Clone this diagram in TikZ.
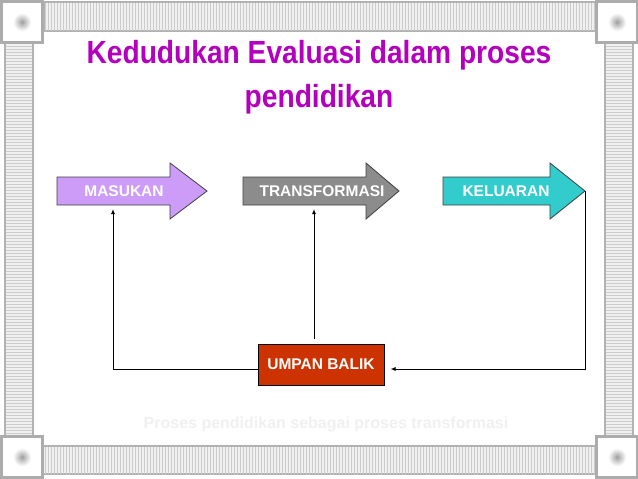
\documentclass[tikz,border=0pt]{standalone}
\usepackage{fontspec}
\setmainfont{Liberation Sans}
\newfontfamily\titlefont[FakeStretch=0.88]{Liberation Sans}
\usetikzlibrary{arrows.meta,patterns}
\definecolor{ttl}{RGB}{180,0,190}
\definecolor{masc}{RGB}{204,156,248}
\definecolor{trac}{RGB}{140,140,140}
\definecolor{kelc}{RGB}{51,204,204}
\definecolor{umpc}{RGB}{204,51,0}
\definecolor{footc}{RGB}{240,240,240}
\tikzset{
  bar/.style={fill=gray!12, draw=gray!60, line width=2pt},
  cornerbox/.style={draw=gray!65, line width=3pt, fill=white, minimum size=41pt, inner sep=0pt},
  fatarrow/.style={draw=black!75, line width=0.8pt, line join=miter},
  lbl/.style={text=white, font=\bfseries\fontsize{15.5}{18}\selectfont, inner sep=0pt},
  conn/.style={draw=black, line width=1pt, -{Latex[length=5pt,width=4pt]}},
  ttlstyle/.style={anchor=base, text=ttl, inner sep=0pt, font=\titlefont\bfseries\fontsize{32}{38}\selectfont}
}
\begin{document}
\begin{tikzpicture}[x=1pt,y=-1pt]
\useasboundingbox (0,0) rectangle (638,479);
\fill[white] (0,0) rectangle (638,479);
% frame bars
\path[bar] (44,2) rectangle (596,31);
\fill[pattern=vertical lines, pattern color=gray!40] (44,3) rectangle (596,30);
\path[bar] (43,446) rectangle (596,474);
\fill[pattern=vertical lines, pattern color=gray!40] (43,447) rectangle (596,473);
\path[bar] (5,43) rectangle (33,436);
\fill[pattern=horizontal lines, pattern color=gray!40] (6,43) rectangle (32,436);
\path[bar] (605,43) rectangle (633,436);
\fill[pattern=horizontal lines, pattern color=gray!40] (606,43) rectangle (632,436);
% corner boxes
\node[cornerbox] (tl) at (22,22) {};
\node[cornerbox] (tr) at (617,22) {};
\node[cornerbox] (bl) at (22,457) {};
\node[cornerbox] (br) at (617,457) {};
\foreach \c in {tl,tr,bl,br}{
  \shade[inner color=gray!75, outer color=white] ([xshift=-9pt,yshift=-9pt]\c.center) rectangle ([xshift=9pt,yshift=9pt]\c.center);
}
% title
\node[ttlstyle] (t1) at (319,63) {Kedudukan Evaluasi dalam proses};
\node[ttlstyle] (t2) at (319,107) {pendidikan};
% arrows
\path[fatarrow, fill=masc] (57,177) -- (170,177) -- (170,163) -- (207,191) -- (170,219) -- (170,205) -- (57,205) -- cycle;
\path[fatarrow, fill=trac] (243,177) -- (366,177) -- (366,163) -- (399,191) -- (366,219) -- (366,205) -- (243,205) -- cycle;
\path[fatarrow, fill=kelc] (443,177) -- (550,177) -- (550,163) -- (585,191) -- (550,219) -- (550,205) -- (443,205) -- cycle;
\node[lbl] (mas) at (124,191) {MASUKAN};
\node[lbl] (tra) at (322,191) {TRANSFORMASI};
\node[lbl] (kel) at (506,191) {KELUARAN};
\coordinate (masIn) at (113,209);
\coordinate (traIn) at (314,209);
\coordinate (kelTip) at (585,191);
% feedback box
\node[fill=umpc, draw=black, line width=1pt, minimum width=126pt, minimum height=41pt, inner sep=0pt, text=white, font=\bfseries\fontsize{15.5}{18}\selectfont] (umpan) at (321,364.5) {UMPAN BALIK};
% connectors
\draw[conn] ([yshift=-4.5pt]umpan.west) -| (masIn);
\draw[conn] ([xshift=-7pt,yshift=5pt]umpan.north) -- (traIn);
\draw[conn] (kelTip) |- ([xshift=6pt,yshift=-4.5pt]umpan.east);
% footer
\node[text=footc, inner sep=0pt, font=\bfseries\fontsize{16}{19}\selectfont] (foot) at (326,424) {Proses pendidikan sebagai proses transformasi};
\end{tikzpicture}
\end{document}
